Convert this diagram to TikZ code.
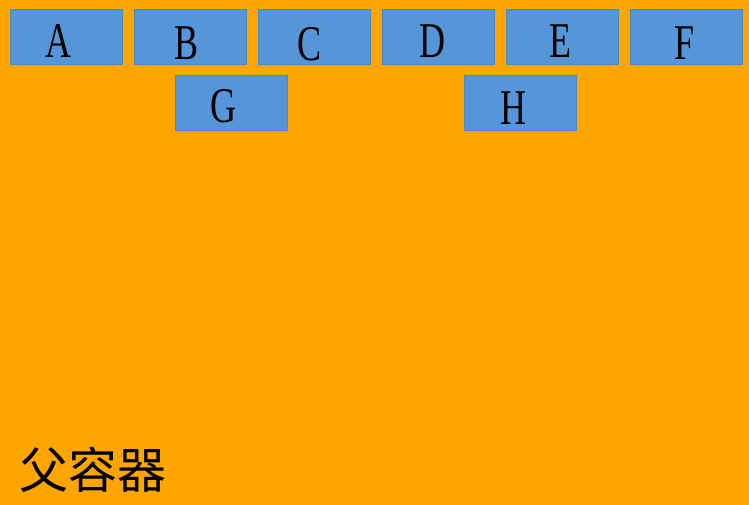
\documentclass[tikz,border=0pt]{standalone}
\usepackage{fontspec}
\setmainfont{Liberation Serif}
\newfontfamily\latinserif{Liberation Serif}
\newfontfamily\cjk{Noto Sans CJK SC}
\definecolor{bgorange}{RGB}{255,165,0}
\definecolor{boxblue}{RGB}{85,150,216}
\begin{document}
\begin{tikzpicture}[x=1pt,y=-1pt,
  itembox/.style={fill=boxblue,draw=boxblue!90!black,line width=0.4pt,inner sep=0,minimum width=112pt,minimum height=55.5pt,anchor=north west},
  itemlabel/.style={inner sep=0,anchor=base,font=\latinserif\fontsize{50}{50}\selectfont},
  parentlabel/.style={inner sep=0,anchor=center,font=\cjk\fontsize{49}{49}\selectfont}]
\fill[bgorange] (0,0) rectangle (749,505);
\useasboundingbox (0,0) rectangle (749,505);
% top row
\node[itembox] (bA) at (9.5,9) {};
\node[itembox] (bB) at (133.5,9) {};
\node[itembox] (bC) at (257.5,9) {};
\node[itembox] (bD) at (381.5,9) {};
\node[itembox] (bE) at (505.5,9) {};
\node[itembox] (bF) at (629.5,9) {};
% second row
\node[itembox] (bG) at (175,75) {};
\node[itembox] (bH) at (464,75) {};
% letters
\node[itemlabel] (tA) at (58.7,57.3) {\scalebox{0.72}[1]{A}};
\node[itemlabel] (tB) at (186.7,60) {\scalebox{0.72}[1]{B}};
\node[itemlabel] (tC) at (309.3,60.5) {\scalebox{0.72}[1]{C}};
\node[itemlabel] (tD) at (432.7,57.3) {\scalebox{0.72}[1]{D}};
\node[itemlabel] (tE) at (560.7,57.3) {\scalebox{0.72}[1]{E}};
\node[itemlabel] (tF) at (684.3,60) {\scalebox{0.72}[1]{F}};
\node[itemlabel] (tG) at (223.3,122.5) {\scalebox{0.72}[1]{G}};
\node[itemlabel] (tH) at (513.3,125) {\scalebox{0.72}[1]{H}};
% parent label
\node[parentlabel] (parent) at (92.5,470) {父容器};
\end{tikzpicture}
\end{document}
